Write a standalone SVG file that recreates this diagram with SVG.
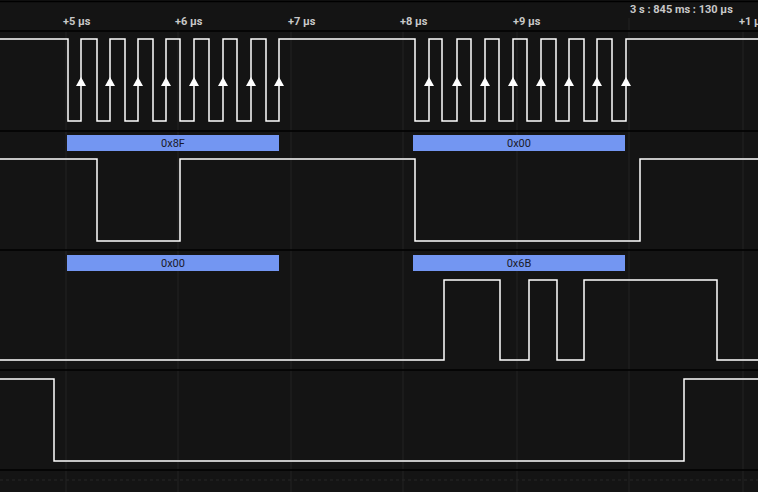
<svg xmlns="http://www.w3.org/2000/svg" width="758" height="492" viewBox="0 0 758 492">
<style>
.sig{fill:none;stroke:#fff;stroke-width:1.5}
.grid{stroke:#232323;stroke-width:1}
.sep{stroke:#000;stroke-width:1.5}
.lbl{font-family:Roboto,"Liberation Sans",sans-serif;font-size:11px;font-weight:bold;fill:#c8c8c8}
.bar{fill:#7396f2}
.bt{font-family:Roboto,"Liberation Sans",sans-serif;font-size:11px;fill:#1a1a2a;text-anchor:middle}
.arr{fill:#fff}
</style>
<defs><path id="a" d="M-5,5 L0,-4 L5,5 Z" class="arr"/></defs>
<rect width="758" height="492" fill="#141414"/>
<line x1="0" y1="1.5" x2="758" y2="1.5" class="sep"/>
<g id="grid">
<line x1="66" y1="30" x2="66" y2="492" class="grid"/>
<line x1="178" y1="30" x2="178" y2="492" class="grid"/>
<line x1="291" y1="30" x2="291" y2="492" class="grid"/>
<line x1="403" y1="30" x2="403" y2="492" class="grid"/>
<line x1="517" y1="30" x2="517" y2="492" class="grid"/>
<line x1="629" y1="18" x2="629" y2="492" class="grid"/>
<line x1="743" y1="30" x2="743" y2="492" class="grid"/>
<line x1="0" y1="480" x2="758" y2="480" stroke="#262626" stroke-dasharray="3,3"/>
</g>
<g id="ruler">
<text x="63" y="25" class="lbl">+5 μs</text>
<text x="175" y="25" class="lbl">+6 μs</text>
<text x="288" y="25" class="lbl">+7 μs</text>
<text x="400" y="25" class="lbl">+8 μs</text>
<text x="513" y="25" class="lbl">+9 μs</text>
<text x="630" y="13" class="lbl">3 s : 845 ms : 130 μs</text>
<text x="739" y="25" class="lbl">+1 μs</text>
</g>
<g id="separators">
<line x1="0" y1="31" x2="758" y2="31" class="sep"/>
<line x1="0" y1="131" x2="758" y2="131" class="sep"/>
<line x1="0" y1="250" x2="758" y2="250" class="sep"/>
<line x1="0" y1="370" x2="758" y2="370" class="sep"/>
<line x1="0" y1="470" x2="758" y2="470" class="sep"/>
</g>
<g id="connectors">
<path class="sig" d="M0,39 H68 V121 H81 V39 H97 V121 H110 V39 H125 V121 H138 V39 H153 V121 H166 V39 H180 V121 H194 V39 H209 V121 H223 V39 H237 V121 H251 V39 H266 V121 H279 V39 H415 V121 H429 V39 H442 V121 H457 V39 H471 V121 H485 V39 H499 V121 H513 V39 H527 V121 H541 V39 H556 V121 H569 V39 H584 V121 H597 V39 H612 V121 H626 V39 H758"/>
<path class="sig" d="M0,159 H97 V241 H180 V159 H415 V241 H640 V159 H758"/>
<path class="sig" d="M0,360 H444 V280 H500 V360 H529 V280 H557 V360 H584 V280 H717 V360 H758"/>
<path class="sig" d="M0,379 H54 V461 H684 V379 H758"/>
</g>
<g id="arrows">
<use href="#a" x="81" y="81"/><use href="#a" x="110" y="81"/><use href="#a" x="138" y="81"/><use href="#a" x="166" y="81"/>
<use href="#a" x="194" y="81"/><use href="#a" x="223" y="81"/><use href="#a" x="251" y="81"/><use href="#a" x="279" y="81"/>
<use href="#a" x="429" y="81"/><use href="#a" x="457" y="81"/><use href="#a" x="485" y="81"/><use href="#a" x="513" y="81"/>
<use href="#a" x="541" y="81"/><use href="#a" x="569" y="81"/><use href="#a" x="597" y="81"/><use href="#a" x="626" y="81"/>
</g>
<g id="bar1"><rect x="67" y="135" width="212" height="16" class="bar"/><text x="173" y="147" class="bt">0x8F</text></g>
<g id="bar2"><rect x="413" y="135" width="212" height="16" class="bar"/><text x="519" y="147" class="bt">0x00</text></g>
<g id="bar3"><rect x="67" y="255" width="212" height="16" class="bar"/><text x="173" y="267" class="bt">0x00</text></g>
<g id="bar4"><rect x="413" y="255" width="212" height="16" class="bar"/><text x="519" y="267" class="bt">0x6B</text></g>
</svg>
